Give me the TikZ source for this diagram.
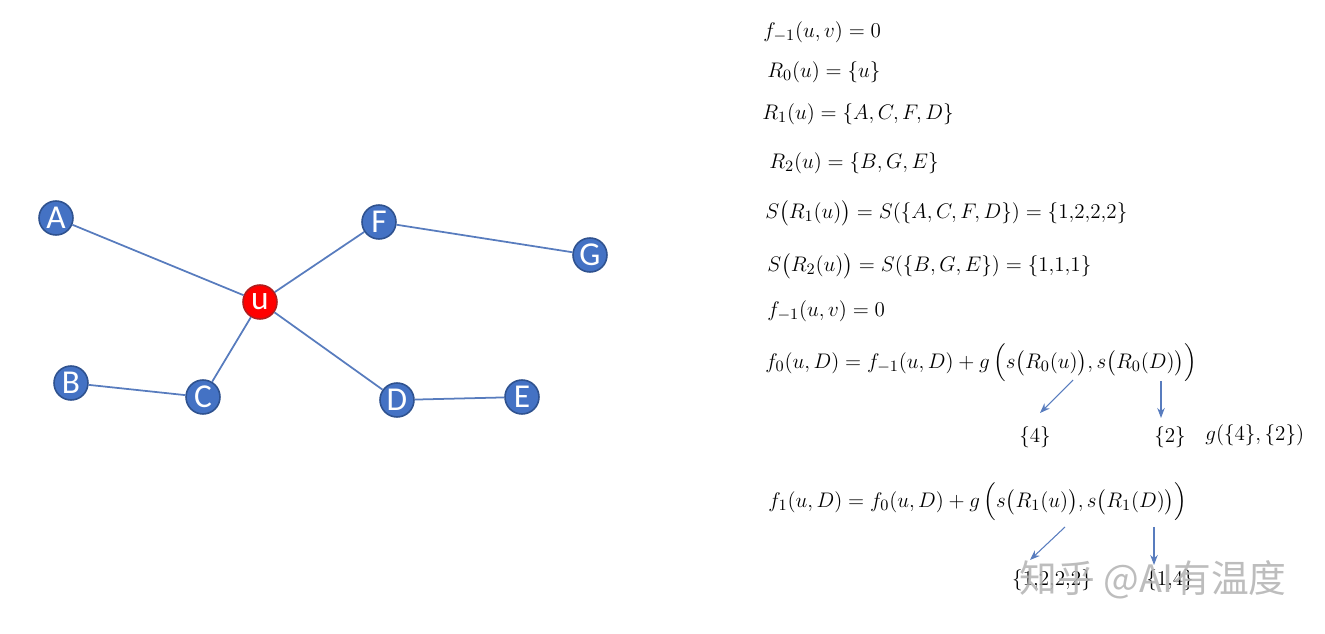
\documentclass[tikz,border=0pt]{standalone}
\usepackage{amsmath}
\usepackage{fontspec}
\usetikzlibrary{arrows.meta, positioning, calc}
\newfontfamily\cjk{Noto Sans CJK SC}
\newfontfamily\vertexfont{Carlito}
\definecolor{vblue}{RGB}{68,114,196}
\definecolor{vedge}{RGB}{47,82,143}
\definecolor{vred}{RGB}{255,0,0}
\definecolor{vredge}{RGB}{175,30,30}
\definecolor{linkblue}{RGB}{88,124,190}

\begin{document}
\begin{tikzpicture}[>=Stealth, x=0.02cm, y=-0.02cm,
  vertex/.style={circle, fill=vblue, draw=vedge, line width=0.9pt, minimum size=0.68cm,
    inner sep=0pt, text=white, font=\vertexfont\fontsize{19}{19}\selectfont},
  root/.style={vertex, fill=vred, draw=vredge},
  link/.style={draw=linkblue, line width=1pt},
  eqn/.style={anchor=west, inner sep=0pt, font=\fontsize{13}{16}\selectfont},
  set/.style={inner sep=0pt, font=\fontsize{13}{16}\selectfont},
  pick/.style={->, draw=linkblue, line width=0.6pt}]
  \useasboundingbox (0,0) rectangle (1325,634);

  % Graph
  \node[vertex] (A) at (56,218) {A};
  \node[root]   (u) at (260,302) {u};
  \node[vertex] (F) at (379,222) {F};
  \node[vertex] (G) at (590,255) {G};
  \node[vertex] (B) at (71,383) {B};
  \node[vertex] (C) at (203,397) {C};
  \node[vertex] (D) at (397,400) {D};
  \node[vertex] (E) at (522,397) {E};

  \draw[link] (A) -- (u);
  \draw[link] (u) -- (F);
  \draw[link] (F) -- (G);
  \draw[link] (u) -- (C);
  \draw[link] (B) -- (C);
  \draw[link] (u) -- (D);
  \draw[link] (D) -- (E);

  % Equations
  \node[eqn] (fm1) at (763,32) {$f_{-1}(u,v) = 0$};
  \node[eqn] (r0) at (767,72) {$R_0(u) = \{u\}$};
  \node[eqn] (r1) at (762,114) {$R_1(u) = \{A,C,F,D\}$};
  \node[eqn] (r2) at (769,163) {$R_2(u) = \{B,G,E\}$};
  \node[eqn] (sr1) at (765,213) {$S\bigl(R_1(u)\bigr) = S(\{A,C,F,D\}) = \{1{,}2{,}2{,}2\}$};
  \node[eqn] (sr2) at (767,266) {$S\bigl(R_2(u)\bigr) = S(\{B,G,E\}) = \{1{,}1{,}1\}$};
  \node[eqn] (fm1b) at (767,311) {$f_{-1}(u,v) = 0$};
  \node[eqn] (f0) at (765,363)
    {$f_0(u,D) = f_{-1}(u,D) + g\,\Bigl(s\bigl(R_0(u)\bigr), s\bigl(R_0(D)\bigr)\Bigr)$};
  \node[eqn] (f1) at (768,502)
    {$f_1(u,D) = f_0(u,D) + g\,\Bigl(s\bigl(R_1(u)\bigr), s\bigl(R_1(D)\bigr)\Bigr)$};

  % Values picked out
  \node[set] (four) at (1035,437) {$\{4\}$};
  \node[set] (two) at (1170,437) {$\{2\}$};
  \node[eqn] (gval) at (1205,435) {$g(\{4\},\{2\})$};
  \node[set] (deg1u) at (1052,580) {$\{1{,}2{,}2{,}2\}$};
  \node[set] (deg1d) at (1170,580) {$\{1{,}4\}$};

  \coordinate (s0u) at (1073,380);
  \coordinate (t0u) at (1040,413);
  \coordinate (s0d) at (1161,381);
  \coordinate (t0d) at (1161,418);
  \coordinate (s1u) at (1065,527);
  \coordinate (t1u) at (1030,560);
  \coordinate (s1d) at (1154,527);
  \coordinate (t1d) at (1154,565);

  \draw[pick] (s0u) -- (t0u);
  \draw[pick] (s0d) -- (t0d);
  \draw[pick] (s1u) -- (t1u);
  \draw[pick] (s1d) -- (t1d);

  % Watermark
  \node[font=\cjk\fontsize{21.5}{22}\selectfont, text=gray!60, opacity=0.85] (mark)
    at (1153,580) {知乎 @AI有温度};
\end{tikzpicture}
\end{document}
